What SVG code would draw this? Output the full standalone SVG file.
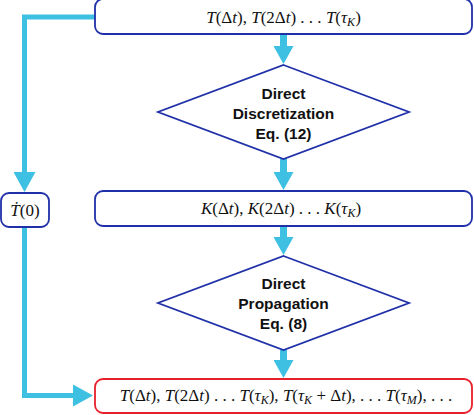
<svg xmlns="http://www.w3.org/2000/svg" width="474" height="415" viewBox="0 0 474 415">
<style>
.box{fill:#fff;stroke:#2030a8;stroke-width:1.8}
.rbox{fill:#fff;stroke:#e8202c;stroke-width:1.8}
.dia{fill:#fff;stroke:#2030a8;stroke-width:1.8}
.lbl{font-family:"Liberation Sans",Arial,sans-serif;font-weight:bold;font-size:15.5px;fill:#111;text-anchor:middle}
.math{font-family:"Liberation Serif","Times New Roman",serif;font-size:17px;fill:#111;text-anchor:middle}
.i{font-style:italic}
.sub{font-style:italic;font-size:12px}
.conn{fill:none;stroke:#3ec0e3}
</style>
<defs>
<marker id="ah" markerUnits="userSpaceOnUse" markerWidth="20" markerHeight="20" refX="0" refY="10" orient="auto" viewBox="0 0 18 20">
<path d="M0,0 L18,10 L0,20 z" fill="#3ec0e3"/>
</marker>
<marker id="ahl" markerUnits="userSpaceOnUse" markerWidth="20" markerHeight="22" refX="0" refY="11" orient="auto" viewBox="0 0 20 22">
<path d="M0,0 L20,11 L0,22 z" fill="#3ec0e3"/>
</marker>
</defs>
<g id="connectors">
<path class="conn" stroke-width="7" d="M283.5,34 V46" marker-end="url(#ah)"/>
<path class="conn" stroke-width="7" d="M283.5,159 V172" marker-end="url(#ah)"/>
<path class="conn" stroke-width="7" d="M283.5,226 V237" marker-end="url(#ah)"/>
<path class="conn" stroke-width="7" d="M283.5,350 V360" marker-end="url(#ah)"/>
<path class="conn" stroke-width="5" d="M95,17 H24.5 V172" marker-end="url(#ahl)"/>
<path class="conn" stroke-width="5" d="M24.5,227 V395.5 H73" marker-end="url(#ahl)"/>
</g>
<g id="top">
<rect class="box" x="95" y="-1" width="377" height="35" rx="8"/>
<text class="math" x="283.5" y="23"><tspan class="i">T</tspan>(Δ<tspan class="i">t</tspan>), <tspan class="i">T</tspan>(2Δ<tspan class="i">t</tspan>) . . . <tspan class="i">T</tspan>(<tspan class="i">τ</tspan><tspan class="sub" dy="3">K</tspan><tspan dy="-3">)</tspan></text>
</g>
<g id="discretization">
<polygon class="dia" points="283.5,65 409,112 283.5,159 158,112"/>
<text class="lbl" x="283.5" y="99">Direct</text>
<text class="lbl" x="283.5" y="119">Discretization</text>
<text class="lbl" x="283.5" y="139">Eq. (12)</text>
</g>
<g id="kbox">
<rect class="box" x="95" y="191" width="377" height="35" rx="8"/>
<text class="math" x="281" y="214"><tspan class="i">K</tspan>(Δ<tspan class="i">t</tspan>), <tspan class="i">K</tspan>(2Δ<tspan class="i">t</tspan>) . . . <tspan class="i">K</tspan>(<tspan class="i">τ</tspan><tspan class="sub" dy="3">K</tspan><tspan dy="-3">)</tspan></text>
</g>
<g id="tdot">
<rect class="box" x="1" y="193" width="48" height="34" rx="8"/>
<text class="math" x="25" y="216"><tspan class="i">Ṫ</tspan>(0)</text>
</g>
<g id="propagation">
<polygon class="dia" points="283.5,256 409,303 283.5,350 158,303"/>
<text class="lbl" x="283.5" y="289">Direct</text>
<text class="lbl" x="283.5" y="309">Propagation</text>
<text class="lbl" x="283.5" y="329">Eq. (8)</text>
</g>
<g id="result">
<rect class="rbox" x="95" y="379" width="377" height="34" rx="8"/>
<text class="math" x="286" y="401"><tspan class="i">T</tspan>(Δ<tspan class="i">t</tspan>), <tspan class="i">T</tspan>(2Δ<tspan class="i">t</tspan>) . . . <tspan class="i">T</tspan>(<tspan class="i">τ</tspan><tspan class="sub" dy="3">K</tspan><tspan dy="-3">), </tspan><tspan class="i">T</tspan>(<tspan class="i">τ</tspan><tspan class="sub" dy="3">K</tspan><tspan dy="-3"> + Δ</tspan><tspan class="i">t</tspan>), . . . <tspan class="i">T</tspan>(<tspan class="i">τ</tspan><tspan class="sub" dy="3">M</tspan><tspan dy="-3">), . . .</tspan></text>
</g>
</svg>
